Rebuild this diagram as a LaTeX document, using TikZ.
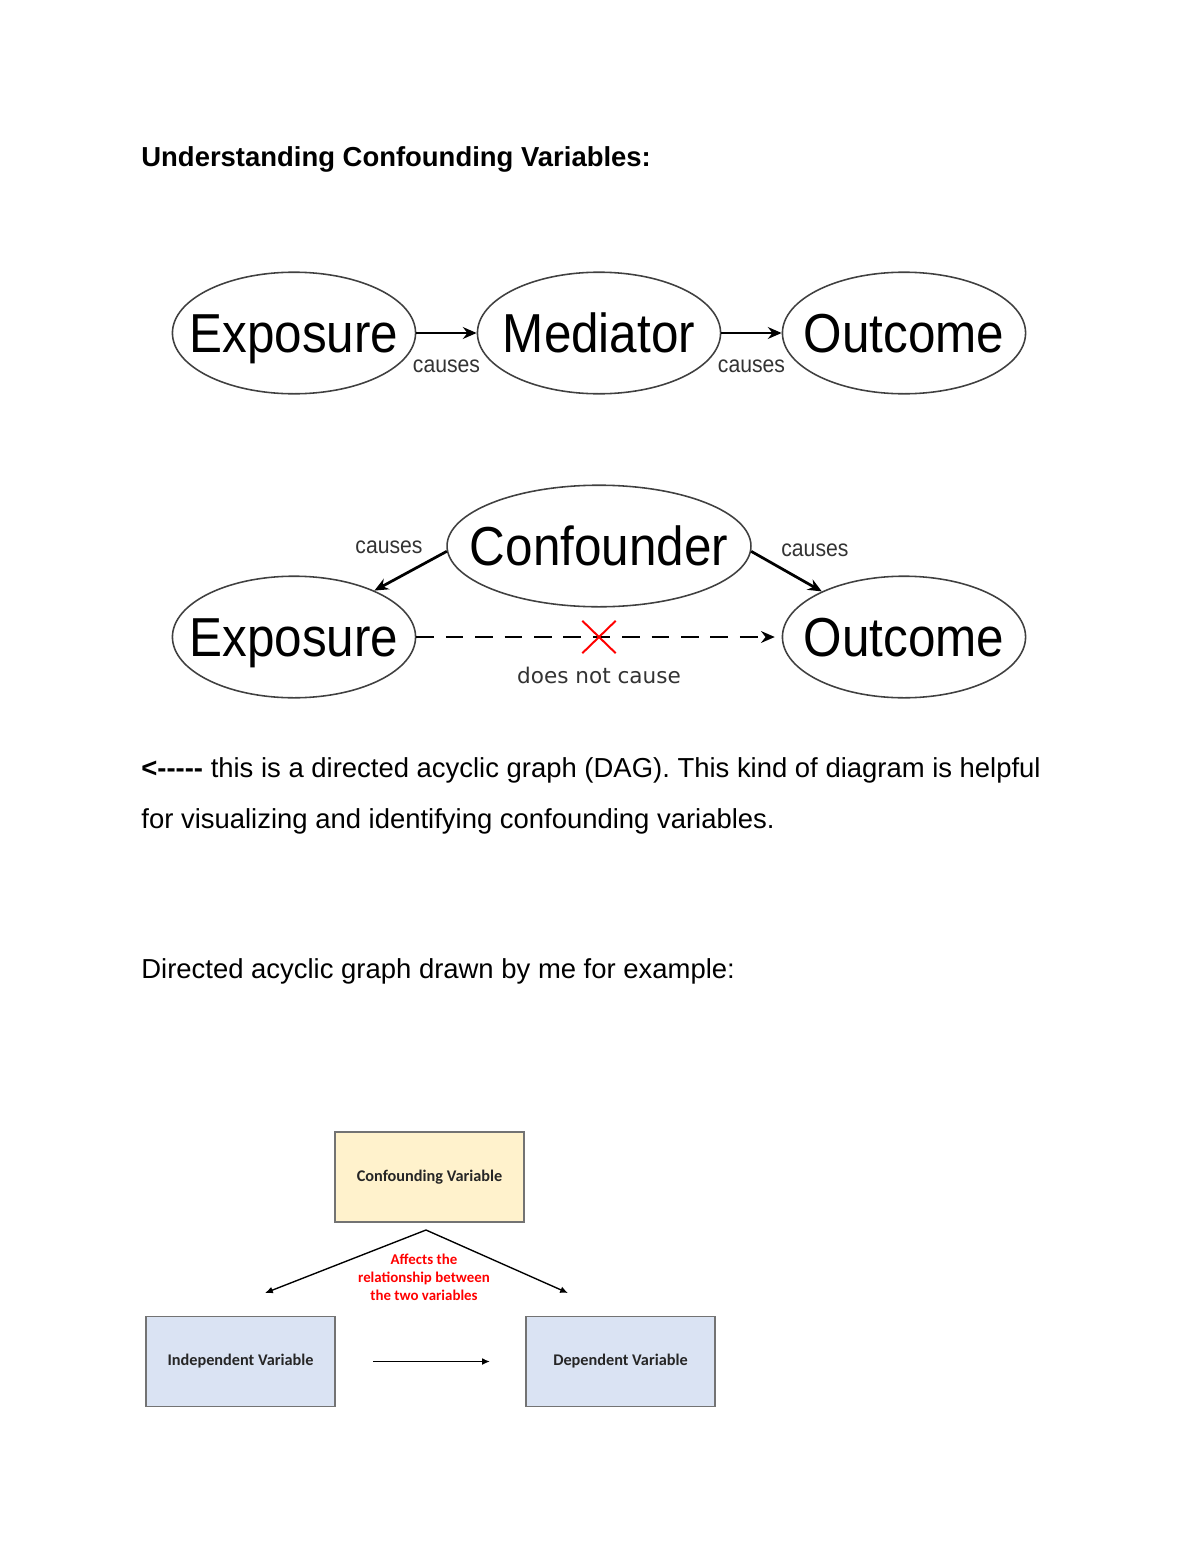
\documentclass[tikz,border=0pt]{standalone}
\usepackage{fontspec}
\setmainfont{Liberation Sans}
\newfontfamily\dagfont[FakeStretch=0.9]{Liberation Sans}
\newfontfamily\notefont{DejaVu Sans}
\newfontfamily\boxfont{Carlito}
\usetikzlibrary{arrows,arrows.meta,shapes.geometric,shapes.misc}
\definecolor{boxyellow}{HTML}{FFF2CC}
\definecolor{boxblue}{HTML}{DAE3F3}
\newcommand{\dagtext}[1]{\makebox[0pt]{#1}}

\begin{document}
\begin{tikzpicture}[x=0.51pt,y=-0.51pt,>={Stealth[length=7pt,width=6pt]},
  var/.style={ellipse,draw=black!75,line width=0.8pt,inner sep=0pt,minimum width=124pt,minimum height=62pt,text height=19.5pt,text depth=0pt,font=\dagfont\fontsize{28}{30}\selectfont},
  lbl/.style={font=\dagfont\fontsize{12}{14}\selectfont,text=black!80},
  txt/.style={anchor=base west,inner sep=0pt,font=\fontsize{14}{26}\selectfont},
  vbox/.style={draw=black!55,line width=0.8pt,minimum width=96.4pt,minimum height=46pt,inner sep=0pt,font=\boxfont\bfseries\fontsize{8.3}{10}\selectfont,text=black!85},
  link/.style={->,line width=1.4pt},
  thin link/.style={-{Latex[length=4pt,width=3.5pt]},line width=0.7pt}]
\useasboundingbox (0,0) rectangle (1200,1553);
\node[txt,font=\bfseries\fontsize{14}{17}\selectfont] (title) at (141,167) {Understanding Confounding Variables:};
% chain
\node[var] (exp) at (294,333) {\dagtext{Exposure}};
\node[var] (med) at (599,333) {\dagtext{Mediator}};
\node[var] (out) at (904,333) {\dagtext{Outcome}};
\draw[link] (exp) -- node[lbl,midway,yshift=-17pt] {causes} (med);
\draw[link] (med) -- node[lbl,midway,yshift=-17pt] {causes} (out);
% confounder
\node[var,minimum width=155pt] (conf) at (599,546) {\dagtext{Confounder}};
\node[var] (exp2) at (294,637) {\dagtext{Exposure}};
\node[var] (out2) at (904,637) {\dagtext{Outcome}};
\draw[link] (conf.182) -- node[lbl,midway,xshift=-11pt,yshift=12pt] {causes} (exp2.30);
\draw[link] (conf.-2) -- node[lbl,midway,xshift=14.5pt,yshift=10.5pt] {causes} (out2.151);
\draw[link,line width=1.4pt,dash pattern=on 9pt off 6pt,shorten >=3.5pt] (exp2) -- node[midway,yshift=-19.4pt,font=\notefont\fontsize{11}{13}\selectfont,text=black!80] {does not cause} (out2);
\node[cross out,draw=red,line width=1pt,minimum width=16pt,minimum height=15.5pt,inner sep=0pt] (nocause) at (599,637) {};
% text
\node[txt,align=left] (dagnote) at (141,828) {\textbf{<{-}{-}{-}{-}{-}} this is a directed acyclic graph (DAG). This kind of diagram is helpful\\for visualizing and identifying confounding variables.};
\node[txt] (mine) at (141,978) {Directed acyclic graph drawn by me for example:};
% my own graph
\node[vbox,fill=boxyellow] (cv) at (429.5,1177) {Confounding Variable};
\node[vbox,fill=boxblue] (iv) at (240.5,1361.5) {Independent Variable};
\node[vbox,fill=boxblue] (dv) at (620.5,1361.5) {Dependent Variable};
\coordinate (apex) at (426,1230);
\coordinate (ivtip) at (265,1293);
\coordinate (dvtip) at (568,1293);
\draw[thin link] (apex) -- (ivtip);
\draw[thin link] (apex) -- (dvtip);
\draw[thin link,shorten <=19pt,shorten >=18pt] (iv) -- (dv);
\node[align=center,text=red,font=\boxfont\bfseries\fontsize{7.6}{9.2}\selectfont] (affects) at (424,1277) {Affects the\\relationship between\\the two variables};
\end{tikzpicture}
\end{document}
